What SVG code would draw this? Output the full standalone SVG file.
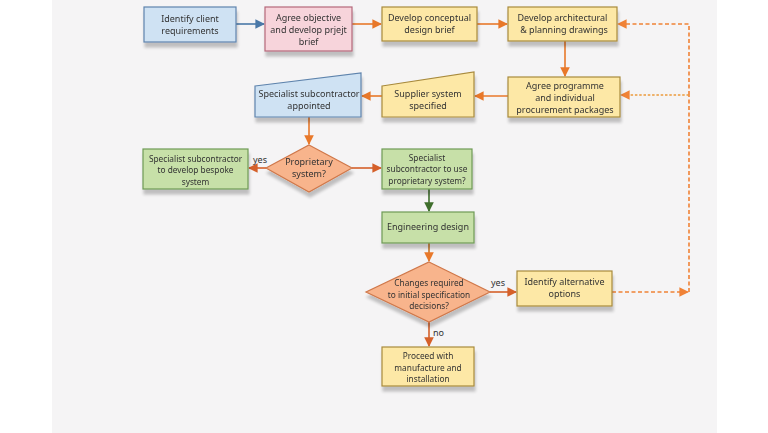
<svg xmlns="http://www.w3.org/2000/svg" width="768" height="433" viewBox="0 0 768 433">
<defs>
<filter id="sh" x="-10%" y="-10%" width="130%" height="160%">
<feGaussianBlur in="SourceAlpha" stdDeviation="1.6"/>
<feOffset dx="1" dy="5" result="b"/>
<feComponentTransfer><feFuncA type="linear" slope="0.22"/></feComponentTransfer>
<feMerge><feMergeNode/><feMergeNode in="SourceGraphic"/></feMerge>
</filter>
<marker id="ao" viewBox="0 0 10 10" refX="9" refY="5" markerWidth="6" markerHeight="6" orient="auto-start-reverse"><path d="M0,0 L10,5 L0,10 z" fill="#e8782a"/></marker>
<marker id="ar" viewBox="0 0 10 10" refX="9" refY="5" markerWidth="6" markerHeight="6" orient="auto-start-reverse"><path d="M0,0 L10,5 L0,10 z" fill="#d5602a"/></marker>
<marker id="ab" viewBox="0 0 10 10" refX="9" refY="5" markerWidth="6" markerHeight="6" orient="auto-start-reverse"><path d="M0,0 L10,5 L0,10 z" fill="#4a78a8"/></marker>
<marker id="ag" viewBox="0 0 10 10" refX="9" refY="5" markerWidth="6" markerHeight="6" orient="auto-start-reverse"><path d="M0,0 L10,5 L0,10 z" fill="#3f6e2c"/></marker>
<marker id="ad" viewBox="0 0 10 10" refX="9" refY="5" markerWidth="6" markerHeight="6" orient="auto-start-reverse"><path d="M0,0 L10,5 L0,10 z" fill="#f08236"/></marker>
</defs>
<style>
text{font-family:"Noto Sans","Open Sans","DejaVu Sans",sans-serif;font-size:9px;fill:#333;text-anchor:middle}
.s{font-size:8.3px}
.blue{fill:#cfe2f3;stroke:#5f84ad;stroke-width:1.2}
.pink{fill:#f7d4db;stroke:#b5687a;stroke-width:1.2}
.yel{fill:#fde8a6;stroke:#a88a3c;stroke-width:1.2}
.grn{fill:#c7e0a8;stroke:#6e9a56;stroke-width:1.2}
.dia{fill:#f8b48c;stroke:#d0784a;stroke-width:1.2}
.n{filter:url(#sh)}
.c{fill:none;stroke-width:1.6}
.o{stroke:#e8782a;marker-end:url(#ao)}
.r{stroke:#d5602a;marker-end:url(#ar)}
.lbl{font-size:9px;text-anchor:start}
</style>
<rect x="0" y="0" width="768" height="433" fill="#ffffff"/>
<rect x="52" y="0" width="665" height="433" fill="#f5f4f5"/>

<g id="connectors">
<line class="c" x1="236" y1="24" x2="264" y2="24" stroke="#4a78a8" marker-end="url(#ab)"/>
<line class="c o" x1="352" y1="24" x2="381" y2="24"/>
<line class="c o" x1="477" y1="24" x2="507" y2="24"/>
<line class="c o" x1="565" y1="41" x2="565" y2="76"/>
<line class="c o" x1="508" y1="96" x2="475" y2="96"/>
<line class="c o" x1="383" y1="96" x2="362" y2="96"/>
<line class="c o" x1="309" y1="117" x2="309" y2="144"/>
<line class="c r" x1="266" y1="168" x2="249" y2="168"/>
<line class="c r" x1="352" y1="168" x2="381" y2="168"/>
<line class="c" x1="429" y1="189" x2="429" y2="211" stroke="#3f6e2c" marker-end="url(#ag)"/>
<line class="c" x1="429" y1="243" x2="429" y2="261" stroke="#c8782a" marker-end="url(#ao)"/>
<line class="c r" x1="490" y1="292" x2="516" y2="292"/>
<line class="c r" x1="429" y1="322" x2="429" y2="346"/>
<path class="c" d="M612,292 L688,292" stroke="#f08236" stroke-dasharray="4,2.5" marker-end="url(#ad)"/>
<path class="c" d="M689,292 L689,95" stroke="#f08236" stroke-dasharray="4,2.5"/>
<path class="c" d="M689,95 L689,24 L618,24" stroke="#f08236" stroke-dasharray="4,2.5" marker-end="url(#ad)"/>
<path class="c" d="M689,95 L621,95" stroke="#eb9a3c" stroke-dasharray="2.5,1.8" marker-end="url(#ad)"/>
<text class="lbl" x="253" y="163">yes</text>
<text class="lbl" x="491" y="286">yes</text>
<text class="lbl" x="433" y="336">no</text>
</g>

<g id="n1" class="n"><rect class="blue" x="144" y="7" width="92" height="35"/><text x="190" y="22">Identify client</text><text x="190" y="34">requirements</text></g>
<g id="n2" class="n"><rect class="pink" x="265" y="7" width="87" height="44"/><text x="308.5" y="21">Agree objective</text><text x="308.5" y="33">and develop prjejt</text><text x="308.5" y="45">brief</text></g>
<g id="n3" class="n"><rect class="yel" x="382" y="7" width="95" height="34"/><text x="429.5" y="21">Develop conceptual</text><text x="429.5" y="33">design brief</text></g>
<g id="n4" class="n"><rect class="yel" x="508" y="7" width="109" height="34"/><text x="562.5" y="21">Develop architectural</text><text x="564" y="33">&amp; planning drawings</text></g>
<g id="n5" class="n"><rect class="yel" x="508" y="77" width="112" height="40"/><text x="565" y="89">Agree programme</text><text x="565" y="101">and individual</text><text x="565" y="113">procurement packages</text></g>
<g id="n6" class="n"><path class="yel" d="M382,86 L474,72 L474,117 L382,117 Z"/><text x="428" y="97">Supplier system</text><text x="428" y="109">specified</text></g>
<g id="n7" class="n"><path class="blue" d="M255,86 L361,73 L361,117 L255,117 Z"/><text x="309" y="97">Specialist subcontractor</text><text x="309" y="109">appointed</text></g>
<g id="n8" class="n"><path class="dia" d="M309,145 L352,168 L309,192 L266,168 Z"/><text x="309" y="165">Proprietary</text><text x="309" y="177">system?</text></g>
<g id="n9" class="n"><rect class="grn" x="143" y="149" width="105" height="40"/><text class="s" x="195.5" y="161.5">Specialist subcontractor</text><text class="s" x="195.5" y="173">to develop bespoke</text><text class="s" x="195.5" y="184.5">system</text></g>
<g id="n10" class="n"><rect class="grn" x="382" y="149" width="90" height="40"/><text class="s" x="427" y="160.5">Specialist</text><text class="s" x="427" y="172">subcontractor to use</text><text class="s" x="427" y="183.5">proprietary system?</text></g>
<g id="n11" class="n"><rect class="grn" x="382" y="212" width="92" height="31"/><text x="428" y="230">Engineering design</text></g>
<g id="n12" class="n"><path class="dia" d="M429,262 L490,292 L429,322 L366,292 Z"/><text class="s" x="429" y="286">Changes required</text><text class="s" x="429" y="297.5">to initial specification</text><text class="s" x="429" y="309">decisions?</text></g>
<g id="n13" class="n"><rect class="yel" x="517" y="271" width="95" height="35"/><text x="564.5" y="285">Identify alternative</text><text x="564.5" y="297">options</text></g>
<g id="n14" class="n"><rect class="yel" x="382" y="347" width="92" height="39"/><text class="s" x="428" y="359">Proceed with</text><text class="s" x="428" y="370.5">manufacture and</text><text class="s" x="428" y="382">installation</text></g>
</svg>
